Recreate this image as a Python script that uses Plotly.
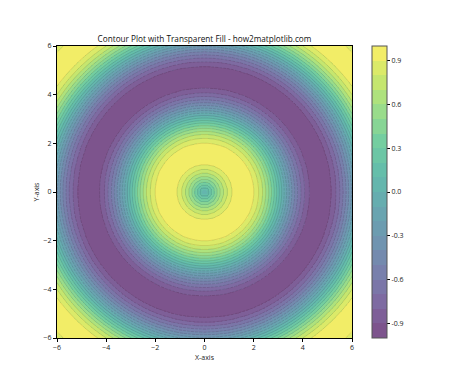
import numpy as np
import plotly.graph_objects as go
from plotly.colors import sample_colorscale

# Surface z = sin(sqrt(x^2 + y^2)) shown in the reference
x_vals = np.linspace(-6, 6, 50)
y_vals = np.linspace(-6, 6, 50)
X, Y = np.meshgrid(x_vals, y_vals)
Z = np.sin(np.sqrt(X**2 + Y**2))

# same surface sampled finely for the filled bands
x_fine = np.linspace(-6, 6, 400)
y_fine = np.linspace(-6, 6, 400)
XF, YF = np.meshgrid(x_fine, y_fine)
ZF = np.sin(np.sqrt(XF**2 + YF**2))

level_start = -1.0
level_end = 1.0
level_step = 0.1
n_bands = 20
cbar_ticks = [-0.9, -0.6, -0.3, 0.0, 0.3, 0.6, 0.9]
axis_ticks = [-6, -4, -2, 0, 2, 4, 6]
alpha = 0.7

title_text = "Contour Plot with Transparent Fill - how2matplotlib.com"


def blend(c, a):
    c = c.strip("rgb()").split(",")
    r, g, b = [float(v) for v in c]
    return "rgb(%d,%d,%d)" % (
        round(r * a + 255 * (1 - a)),
        round(g * a + 255 * (1 - a)),
        round(b * a + 255 * (1 - a)),
    )


mids = [(k + 0.5) / n_bands for k in range(n_bands)]
band_cols = [blend(c, alpha) for c in sample_colorscale("Viridis", mids)]
colorscale = []
for k, c in enumerate(band_cols):
    colorscale.append([k / n_bands, c])
    colorscale.append([(k + 1) / n_bands, c])

fig = go.Figure()
fig.add_trace(go.Heatmap(
    x=x_fine.tolist(), y=y_fine.tolist(), z=ZF.tolist(),
    zmin=level_start, zmax=level_end, zsmooth=False,
    colorscale=colorscale,
    colorbar=dict(
        x=1.068, xanchor="left", xpad=0, y=0.5, yanchor="middle", ypad=0,
        len=1.0, lenmode="fraction", thickness=15,
        tickvals=cbar_ticks, ticktext=["%.1f" % t for t in cbar_ticks],
        ticks="outside", ticklen=3, tickcolor="black",
        outlinewidth=1, outlinecolor="#555",
        tickfont=dict(size=7, color="#222"),
    ),
    hoverinfo="skip",
))
# negative levels dashed
fig.add_trace(go.Contour(
    x=x_vals.tolist(), y=y_vals.tolist(), z=Z.tolist(),
    contours=dict(start=-0.9, end=-0.1, size=level_step, coloring="none"),
    line=dict(color="rgba(0,0,0,0.22)", width=0.5, dash="3px,1px", smoothing=0),
    showscale=False, hoverinfo="skip",
))
# zero and positive levels solid
fig.add_trace(go.Contour(
    x=x_vals.tolist(), y=y_vals.tolist(), z=Z.tolist(),
    contours=dict(start=0.0, end=0.9, size=level_step, coloring="none"),
    line=dict(color="rgba(0,0,0,0.22)", width=0.5, smoothing=0),
    showscale=False, hoverinfo="skip",
))

axis_common = dict(
    range=[-6, 6], tickvals=axis_ticks, ticks="outside", ticklen=3,
    tickcolor="black", showline=True, linecolor="black", linewidth=1,
    mirror=True, showgrid=False, zeroline=False,
    tickfont=dict(size=7, color="#222"),
)
fig.update_xaxes(title=dict(text="X-axis", font=dict(size=7, color="#222"), standoff=3), **axis_common)
fig.update_yaxes(title=dict(text="Y-axis", font=dict(size=7, color="#222"), standoff=3), **axis_common)

fig.update_layout(
    width=474, height=379,
    margin=dict(l=49, r=130, t=38, b=49),
    paper_bgcolor="white", plot_bgcolor="white",
    font=dict(family="Open Sans, Noto Sans, sans-serif", size=7, color="#222"),
    title=dict(text=title_text, x=(49 + 344) / 2 / 474, xanchor="center",
               y=1 - 31 / 379, yanchor="middle", font=dict(size=8.2, color="#111")),
    showlegend=False,
)

fig.write_html("out.html")
